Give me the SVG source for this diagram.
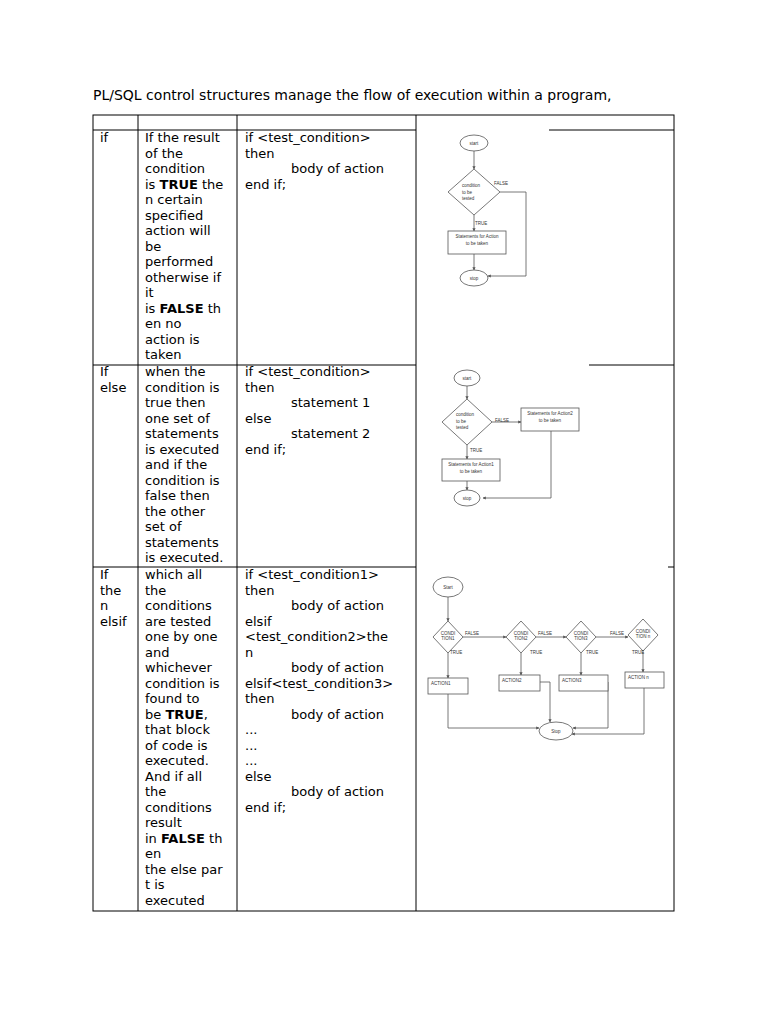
<svg xmlns="http://www.w3.org/2000/svg" width="768" height="1024" viewBox="0 0 768 1024">
<style>
text{font-family:"DejaVu Sans",sans-serif;font-size:13px;fill:#000}
.t{font-size:14px}
.g line,.g path,.g rect.b{stroke:#000;stroke-width:1;fill:none}
.f ellipse,.f rect,.f polygon{fill:#fff;stroke:#555;stroke-width:0.8}
.f path,.f line{fill:none;stroke:#555;stroke-width:0.8}
.f text{font-family:"Liberation Sans",sans-serif;font-size:4.5px;fill:#333}
</style>
<defs><marker id="a" markerWidth="4" markerHeight="4" refX="3.5" refY="2" orient="auto"><path d="M0,0L4,2L0,4z" fill="#555"/></marker></defs>
<rect width="768" height="1024" fill="#fff"/>
<text class="t" x="93" y="100">PL/SQL control structures manage the flow of execution within a program,</text>
<g id="table" class="g">
<rect class="b" x="93" y="115" width="581" height="796"/>
<line x1="138" y1="115" x2="138" y2="911"/><line x1="237" y1="115" x2="237" y2="911"/><line x1="416" y1="115" x2="416" y2="911"/>
<line x1="93" y1="130" x2="416" y2="130"/><line x1="549" y1="130" x2="674" y2="130"/>
<line x1="93" y1="365" x2="416" y2="365"/><line x1="589" y1="365" x2="674" y2="365"/>
<line x1="93" y1="567" x2="416" y2="567"/><line x1="668" y1="567" x2="674" y2="567"/>
</g>
<g id="row1">
<text x="100" y="142">if</text>
<text x="145" y="142">If the result</text><text x="145" y="157.5">of the</text><text x="145" y="173">condition</text><text x="145" y="188.5">is <tspan font-weight="bold">TRUE</tspan> the</text><text x="145" y="204">n certain</text><text x="145" y="219.5">specified</text><text x="145" y="235">action will</text><text x="145" y="250.5">be</text><text x="145" y="266">performed</text><text x="145" y="281.5">otherwise if</text><text x="145" y="297">it</text><text x="145" y="312.5">is <tspan font-weight="bold">FALSE</tspan> th</text><text x="145" y="328">en no</text><text x="145" y="343.5">action is</text><text x="145" y="359">taken</text>
<text x="245" y="142">if &lt;test_condition&gt;</text><text x="245" y="157.5">then</text><text x="291" y="173">body of action</text><text x="245" y="188.5">end if;</text>
</g>
<g id="row2">
<text x="100" y="376">If</text><text x="100" y="391.5">else</text>
<text x="145" y="376">when the</text><text x="145" y="391.5">condition is</text><text x="145" y="407">true then</text><text x="145" y="422.5">one set of</text><text x="145" y="438">statements</text><text x="145" y="453.5">is executed</text><text x="145" y="469">and if the</text><text x="145" y="484.5">condition is</text><text x="145" y="500">false then</text><text x="145" y="515.5">the other</text><text x="145" y="531">set of</text><text x="145" y="546.5">statements</text><text x="145" y="562">is executed.</text>
<text x="245" y="376">if &lt;test_condition&gt;</text><text x="245" y="391.5">then</text><text x="291" y="407">statement 1</text><text x="245" y="422.5">else</text><text x="291" y="438">statement 2</text><text x="245" y="453.5">end if;</text>
</g>
<g id="row3">
<text x="100" y="579">If</text><text x="100" y="594.5">the</text><text x="100" y="610">n</text><text x="100" y="625.5">elsif</text>
<text x="145" y="579">which all</text><text x="145" y="594.5">the</text><text x="145" y="610">conditions</text><text x="145" y="625.5">are tested</text><text x="145" y="641">one by one</text><text x="145" y="656.5">and</text><text x="145" y="672">whichever</text><text x="145" y="687.5">condition is</text><text x="145" y="703">found to</text><text x="145" y="718.5">be <tspan font-weight="bold">TRUE</tspan>,</text><text x="145" y="734">that block</text><text x="145" y="749.5">of code is</text><text x="145" y="765">executed.</text><text x="145" y="780.5">And if all</text><text x="145" y="796">the</text><text x="145" y="811.5">conditions</text><text x="145" y="827">result</text><text x="145" y="842.5">in <tspan font-weight="bold">FALSE</tspan> th</text><text x="145" y="858">en</text><text x="145" y="873.5">the else par</text><text x="145" y="889">t is</text><text x="145" y="904.5">executed</text>
<text x="245" y="579">if &lt;test_condition1&gt;</text><text x="245" y="594.5">then</text><text x="291" y="610">body of action</text><text x="245" y="625.5">elsif</text><text x="245" y="641">&lt;test_condition2&gt;the</text><text x="245" y="656.5">n</text><text x="291" y="672">body of action</text><text x="245" y="687.5">elsif&lt;test_condition3&gt;</text><text x="245" y="703">then</text><text x="291" y="718.5">body of action</text><text x="245" y="734">...</text><text x="245" y="749.5">...</text><text x="245" y="765">...</text><text x="245" y="780.5">else</text><text x="291" y="796">body of action</text><text x="245" y="811.5">end if;</text>
</g>
<g id="flow1" class="f">
<line x1="474" y1="151" x2="474" y2="169" marker-end="url(#a)"/>
<line x1="474" y1="215" x2="474" y2="231" marker-end="url(#a)"/>
<line x1="474" y1="254" x2="474" y2="270" marker-end="url(#a)"/>
<path d="M500,192H526V276H488" marker-end="url(#a)"/>
<ellipse cx="474" cy="143" rx="14" ry="8"/><text x="474" y="145" text-anchor="middle">start</text>
<polygon points="474,169 500,192 474,215 448,192"/><text x="462" y="187">condition</text><text x="462" y="193.5">to be</text><text x="462" y="200">tested</text>
<text x="494" y="185">FALSE</text><text x="475" y="225">TRUE</text>
<rect x="448" y="231" width="58" height="23"/><text x="477" y="238" text-anchor="middle">Statements for Action</text><text x="477" y="245" text-anchor="middle">to be taken</text>
<ellipse cx="474" cy="278" rx="14" ry="8"/><text x="474" y="280" text-anchor="middle">stop</text>
</g>
<g id="flow2" class="f">
<line x1="467" y1="386" x2="467" y2="399" marker-end="url(#a)"/>
<line x1="467" y1="445" x2="467" y2="459" marker-end="url(#a)"/>
<line x1="467" y1="481" x2="467" y2="490" marker-end="url(#a)"/>
<line x1="492" y1="422" x2="521" y2="422" marker-end="url(#a)"/>
<path d="M551,431V498H483" marker-end="url(#a)"/>
<ellipse cx="467" cy="378" rx="13" ry="8"/><text x="467" y="380" text-anchor="middle">start</text>
<polygon points="467,399 492,422 467,445 442,422"/><text x="456" y="416">condition</text><text x="456" y="422.5">to be</text><text x="456" y="429">tested</text>
<text x="495" y="422">FALSE</text><text x="470" y="452">TRUE</text>
<rect x="521" y="408" width="58" height="23"/><text x="550" y="415" text-anchor="middle">Statements for Action2</text><text x="550" y="422" text-anchor="middle">to be taken</text>
<rect x="442" y="459" width="58" height="22"/><text x="471" y="466" text-anchor="middle">Statements for Action1</text><text x="471" y="473" text-anchor="middle">to be taken</text>
<ellipse cx="467" cy="498" rx="13" ry="8"/><text x="467" y="500" text-anchor="middle">stop</text>
</g>
<g id="flow3" class="f">
<line x1="448" y1="597" x2="448" y2="621" marker-end="url(#a)"/>
<line x1="463" y1="637" x2="506" y2="637" marker-end="url(#a)"/>
<line x1="536" y1="637" x2="566" y2="637" marker-end="url(#a)"/>
<line x1="596" y1="637" x2="628" y2="637" marker-end="url(#a)"/>
<line x1="448" y1="653" x2="448" y2="678" marker-end="url(#a)"/>
<line x1="521" y1="653" x2="521" y2="675" marker-end="url(#a)"/>
<line x1="581" y1="653" x2="581" y2="675" marker-end="url(#a)"/>
<line x1="643" y1="651" x2="643" y2="672" marker-end="url(#a)"/>
<path d="M448,694V728H539" marker-end="url(#a)"/>
<path d="M540,682H550V722" marker-end="url(#a)"/>
<path d="M608,682V728H573" marker-end="url(#a)"/>
<path d="M644,688V734H572" marker-end="url(#a)"/>
<ellipse cx="448" cy="587" rx="15" ry="10"/><text x="448" y="589" text-anchor="middle">Start</text>
<polygon points="448,621 463,637 448,653 433,637"/><text x="448" y="635" text-anchor="middle">CONDI</text><text x="448" y="640" text-anchor="middle">TION1</text>
<polygon points="521,621 536,637 521,653 506,637"/><text x="521" y="635" text-anchor="middle">CONDI</text><text x="521" y="640" text-anchor="middle">TION2</text>
<polygon points="581,621 596,637 581,653 566,637"/><text x="581" y="635" text-anchor="middle">CONDI</text><text x="581" y="640" text-anchor="middle">TION3</text>
<polygon points="643,619 658,635 643,651 628,635"/><text x="643" y="633" text-anchor="middle">CONDI</text><text x="643" y="638" text-anchor="middle">TION n</text>
<text x="465" y="635">FALSE</text><text x="538" y="635">FALSE</text><text x="610" y="635">FALSE</text>
<text x="450" y="654">TRUE</text><text x="530" y="654">TRUE</text><text x="586" y="654">TRUE</text><text x="632" y="654">TRUE</text>
<rect x="428" y="678" width="40" height="16"/><text x="431" y="685">ACTION1</text>
<rect x="499" y="675" width="41" height="16"/><text x="502" y="682">ACTION2</text>
<rect x="559" y="675" width="49" height="16"/><text x="562" y="682">ACTION3</text>
<rect x="625" y="672" width="39" height="16"/><text x="628" y="679">ACTION n</text>
<ellipse cx="556" cy="731" rx="17" ry="9"/><text x="556" y="733" text-anchor="middle" font-size="5.5">Stop</text>
</g>
</svg>
